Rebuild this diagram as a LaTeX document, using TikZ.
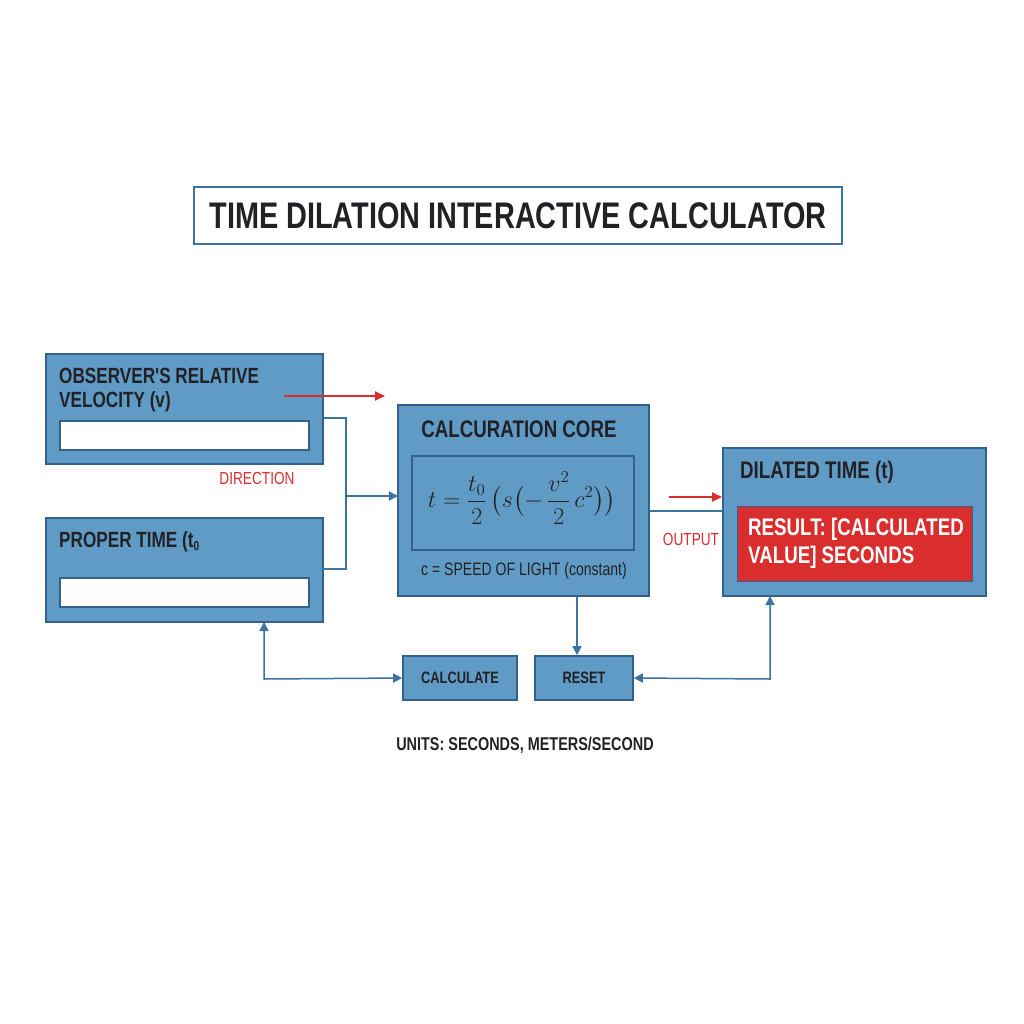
\documentclass[tikz,border=0pt]{standalone}
\usepackage{fix-cm}
\usepackage{amsmath}
\usepackage{fontspec}
\newfontfamily\cf[FakeStretch=0.78]{Liberation Sans}
\usetikzlibrary{arrows.meta}
\definecolor{boxblue}{RGB}{96,155,198}
\definecolor{boxedge}{RGB}{50,98,140}
\definecolor{lineblue}{RGB}{60,115,160}
\definecolor{redc}{RGB}{218,45,45}
\definecolor{inkc}{RGB}{34,34,38}
\tikzset{
  panel/.style={draw=boxedge, line width=1.6pt, fill=boxblue},
  field/.style={draw=boxedge, line width=1.2pt, fill=white},
  lbl/.style={font=\cf\bfseries\fontsize{22}{26}\selectfont, text=inkc, anchor=west, inner sep=0pt, align=left},
  redlbl/.style={font=\cf\fontsize{17.5}{20}\selectfont, text=redc, inner sep=0pt},
  btn/.style={draw=boxedge, line width=1.6pt, fill=boxblue, font=\cf\bfseries\fontsize{16.5}{20}\selectfont, text=inkc},
  conn/.style={draw=lineblue, line width=1.5pt},
  tip/.style={-{Triangle[length=9pt,width=9pt]}},
  redarrow/.style={draw=redc, line width=1.8pt, -{Triangle[length=10pt,width=9pt]}},
}
\begin{document}
\begin{tikzpicture}[x=1pt,y=-1pt]
\useasboundingbox[fill=white] (0,0) rectangle (1024,1024);
% title
\node[draw=lineblue, line width=1.6pt, fill=white, minimum width=648pt, minimum height=57pt, font=\cf\bfseries\fontsize{37}{42}\selectfont, text=inkc] (title) at (518,215.5) {TIME DILATION INTERACTIVE CALCULATOR};
% observer box
\draw[panel] (46,354) rectangle (323,464);
\coordinate (obsE) at (323,418);
\node[lbl] (obsT) at (59,390) {OBSERVER'S RELATIVE\\[-2pt]VELOCITY (v)};
\draw[field] (60,421) rectangle (309,450);
% proper time
\draw[panel] (46,518) rectangle (323,622);
\coordinate (propE) at (323,569);
\coordinate (propS) at (264,622);
\node[lbl] (propT) at (59,542) {PROPER TIME (t\textsubscript{\fontsize{13}{14}\selectfont 0}};
\draw[field] (60,578) rectangle (309,607);
% red direction arrow
\coordinate (dirA) at (284,396);
\coordinate (dirB) at (385,396);
\draw[redarrow] (dirA) -- (dirB);
\node[redlbl] (dirL) at (257,478) {DIRECTION};
% core
\draw[panel] (398,405) rectangle (649,596);
\coordinate (coreW) at (398,496);
\coordinate (coreE) at (649,511);
\coordinate (coreS) at (577,596);
\node[font=\cf\bfseries\fontsize{24}{28}\selectfont, text=inkc, inner sep=0pt] (coreT) at (519,429) {CALCURATION CORE};
\draw[draw=boxedge, line width=1.4pt] (412,456) rectangle (634,550);
\node[inner sep=0pt, text=inkc, font=\fontsize{24}{29}\selectfont] (formula) at (522,498) {$\displaystyle t=\frac{t_0}{2}\,\bigl(s\bigl(-\,\frac{v^2}{2}\,c^2\bigr)\bigr)$};
\node[font=\cf\fontsize{18}{21}\selectfont, text=inkc, inner sep=0pt] (cnote) at (524,571) {c = SPEED OF LIGHT (constant)};
% join from inputs
\coordinate (j1) at (346,418);
\coordinate (j2) at (346,569);
\coordinate (j3) at (346,496);
\draw[conn] (obsE) -- (j1) -- (j2) -- (propE);
\draw[conn, tip] (j3) -- (coreW);
% dilated
\draw[panel] (723,448) rectangle (986,596);
\coordinate (dilW) at (723,511);
\coordinate (dilS) at (770,596);
\node[lbl, font=\cf\bfseries\fontsize{24}{28}\selectfont] (dilT) at (740,472) {DILATED TIME (t)};
\node[draw=boxedge, line width=1.2pt, fill=redc, minimum width=235pt, minimum height=75pt, anchor=north west] (res) at (737,506) {};
\node[font=\cf\bfseries\fontsize{24}{28}\selectfont, text=white, anchor=west, align=left, inner sep=0pt] (resT) at (748,543) {RESULT: [CALCULATED\\VALUE] SECONDS};
\draw[conn] (coreE) -- (dilW);
\coordinate (outA) at (669,497);
\coordinate (outB) at (722,497);
\draw[redarrow] (outA) -- (outB);
\node[redlbl] (outL) at (691,539) {OUTPUT};
% buttons
\node[btn, minimum width=114pt, minimum height=44pt] (calc) at (460,678) {CALCULATE};
\node[btn, minimum width=98pt, minimum height=44pt] (reset) at (584,678) {RESET};
\draw[conn, tip] (coreS) -- (coreS |- reset.north);
\coordinate (c1) at (264,679);
\draw[conn, {Triangle[length=9pt,width=9pt]}-{Triangle[length=9pt,width=9pt]}] (propS) -- (c1) -- (calc.west);
\coordinate (c2) at (770,679);
\draw[conn, {Triangle[length=9pt,width=9pt]}-{Triangle[length=9pt,width=9pt]}] (dilS) -- (c2) -- (reset.east);
% units
\node[font=\cf\bfseries\fontsize{18.5}{21}\selectfont, text=inkc, inner sep=0pt] (units) at (525,745) {UNITS: SECONDS, METERS/SECOND};
\end{tikzpicture}
\end{document}
